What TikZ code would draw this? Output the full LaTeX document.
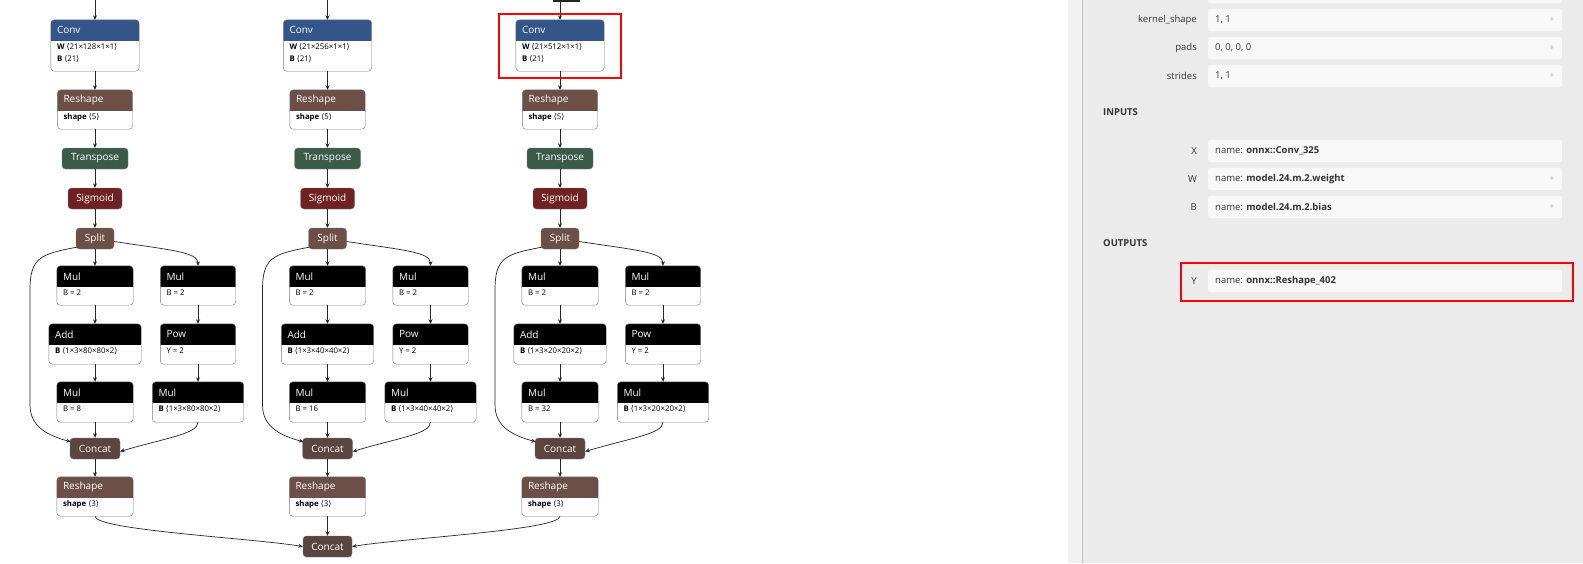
\documentclass[tikz,border=0pt]{standalone}
\usepackage{fontspec}
\setmainfont{Open Sans}
\newfontfamily\djv{DejaVu Sans}
\usetikzlibrary{arrows.meta}
\definecolor{convc}{HTML}{335588}
\definecolor{shapec}{HTML}{6C4F47}
\definecolor{catc}{HTML}{5B4540}
\definecolor{trc}{HTML}{3B5A48}
\definecolor{sigc}{HTML}{6E2222}
\definecolor{bord}{HTML}{7A7A7A}
\definecolor{panel}{HTML}{EBEBEB}
\definecolor{strip}{HTML}{F1F1F1}
\definecolor{field}{HTML}{F8F8F8}
\newcommand\lb{{\djv\char"27E8}}
\newcommand\rb{{\djv\char"27E9}}
\newcommand\simplenode[6]{% name cx top width color title
  \node[draw=bord,fill=#5,rounded corners=3.5pt,minimum width=#4pt,minimum height=21pt,inner sep=0pt,text=white,font=\fontsize{10}{11}\selectfont] (#1) at ({#2},{#3+10.5}) {#6};}
\newcommand\opnode[8]{% name cx top width bottom color title body
  \node[fill=white,rounded corners=3.5pt,minimum width=#4pt,minimum height={#5-#3},inner sep=0pt] (#1) at ({#2},{(#3+#5)/2}) {};
  \fill[#6] ([yshift=-21pt]#1.north west) {[rounded corners=3.5pt] -- (#1.north west) -- (#1.north east)} -- ([yshift=-21pt]#1.north east) -- cycle;
  \draw[bord,rounded corners=3.5pt] (#1.north west) rectangle (#1.south east);
  \node[anchor=west,text=white,inner sep=0pt,font=\fontsize{10}{11}\selectfont] at ([xshift=6pt,yshift=-10.5pt]#1.north west) {#7};
  \node[anchor=north west,align=left,inner sep=0pt,font=\fontsize{7.8}{12}\selectfont] at ([xshift=6pt,yshift=-24pt]#1.north west) {#8};}
\tikzset{arr/.style={draw=black!85,line width=0.7pt,-{Stealth[length=4.5pt,width=4pt]}},
  lab/.style={font=\fontsize{9.5}{11}\selectfont,text=black!80,inner sep=0pt},
  fld/.style={fill=field,rounded corners=2pt,draw=none},
  plus/.style={font=\fontsize{8.5}{10}\selectfont,text=black!30,inner sep=0pt}}
\begin{document}
\begin{tikzpicture}[x=1pt,y=-1pt]
\useasboundingbox (0,0) rectangle (1583,563);
\fill[white] (0,0) rectangle (1583,563);
% panel
\fill[strip] (1068,0) rectangle (1082,563);
\fill[panel] (1082,0) rectangle (1583,563);
\draw[black!25,line width=0.8pt] (1082,0) -- (1082,563);
\fill[fld] (1208,-20) rectangle (1562,3);
\foreach \n/\t/\v/\y/\p in {k/kernel\_shape/{1, 1}/9/1,p/pads/{0, 0, 0, 0}/37/1,s/strides/{1, 1}/65/1,x/X/{name: \textbf{onnx::Conv\_325}}/140/0,w/W/{name: \textbf{model.24.m.2.weight}}/168/1,b/B/{name: \textbf{model.24.m.2.bias}}/196/1,y/Y/{name: \textbf{onnx::Reshape\_402}}/270/0}{
  \fill[fld] (1208,\y) rectangle (1562,\y+22);
  \node[lab,anchor=east] (l\n) at (1197,\y+11) {\t};
  \node[lab,anchor=west] (v\n) at (1215,\y+11) {\v};
  \ifnum\p=1 \node[plus] at (1552,\y+11) {+};\fi
}
\node[lab,anchor=west,font=\fontsize{9.5}{11}\bfseries] (inp) at (1103,112) {INPUTS};
\node[lab,anchor=west,font=\fontsize{9.5}{11}\bfseries] (outp) at (1103,243) {OUTPUTS};
\draw[red,line width=1.3pt] (1181,263) rectangle (1573,301);
% columns
\fill[black!85] (553,-3) rectangle (580,2);
\foreach \cc/\cx/\wdim/\adim/\mbv in {a/95/128/80/8,b/327.5/256/40/16,c/560/512/20/32}{
  \coordinate (\cc top) at (\cx,0);
  \opnode{\cc conv}{\cx}{20}{88}{71}{convc}{Conv}{\textbf{W} \lb21×\wdim×1×1\rb\\\textbf{B} \lb21\rb}
  \opnode{\cc rs}{\cx}{90}{75}{129}{shapec}{Reshape}{\textbf{shape} \lb5\rb}
  \simplenode{\cc tr}{\cx}{148}{66}{trc}{Transpose}
  \simplenode{\cc sig}{\cx}{188}{54}{sigc}{Sigmoid}
  \simplenode{\cc sp}{\cx}{228}{38}{shapec}{Split}
  \opnode{\cc ma}{\cx}{266}{76}{305}{black}{Mul}{B = 2}
  \opnode{\cc mb}{\cx+103}{266}{75}{305}{black}{Mul}{B = 2}
  \opnode{\cc add}{\cx}{324}{92}{364}{black}{Add}{\textbf{B} \lb1×3×\adim×\adim×2\rb}
  \opnode{\cc pow}{\cx+103}{324}{75}{364}{black}{Pow}{Y = 2}
  \opnode{\cc mc}{\cx}{382}{76}{422}{black}{Mul}{B = \mbv}
  \opnode{\cc md}{\cx+103}{382}{91}{422}{black}{Mul}{\textbf{B} \lb1×3×\adim×\adim×2\rb}
  \simplenode{\cc cat}{\cx}{438}{50}{catc}{Concat}
  \opnode{\cc rs2}{\cx}{477}{76}{516}{shapec}{Reshape}{\textbf{shape} \lb3\rb}
  \draw[arr] (\cc top) -- (\cc conv);
  \draw[arr] (\cc conv) -- (\cc rs);
  \draw[arr] (\cc rs) -- (\cc tr);
  \draw[arr] (\cc tr) -- (\cc sig);
  \draw[arr] (\cc sig) -- (\cc sp);
  \draw[arr] (\cc sp) -- (\cc ma);
  \draw[arr] (\cc ma) -- (\cc add);
  \draw[arr] (\cc add) -- (\cc mc);
  \draw[arr] (\cc mc) -- (\cc cat);
  \draw[arr] (\cc mb) -- (\cc pow);
  \draw[arr] (\cc pow) -- (\cc md);
  \draw[arr] (\cc cat) -- (\cc rs2);
  \draw[arr] ([xshift=1pt,yshift=2pt]\cc sp.south west) .. controls (\cx-55,254) and (\cx-65,258) .. (\cx-65,290) -- (\cx-65,405) .. controls (\cx-65,428) and (\cx-45,436) .. ([xshift=1pt,yshift=-4pt]\cc cat.north west);
  \draw[arr] ([yshift=-3pt]\cc sp.east) .. controls (\cx+75,250) and (\cx+103,252) .. (\cc mb.north);
  \draw[arr] (\cc md.south) .. controls (\cx+103,434) and (\cx+70,438) .. ([yshift=-3pt]\cc cat.east);
}
\draw[red,line width=1.3pt] (499,14) rectangle (621,78);
\simplenode{fc}{327.5}{536}{49}{catc}{Concat}
\draw[arr] (ars2.south) .. controls (95,530) and (250,538) .. (fc.west);
\draw[arr] (brs2) -- (fc);
\draw[arr] (crs2.south) .. controls (560,530) and (405,538) .. (fc.east);
\end{tikzpicture}
\end{document}
